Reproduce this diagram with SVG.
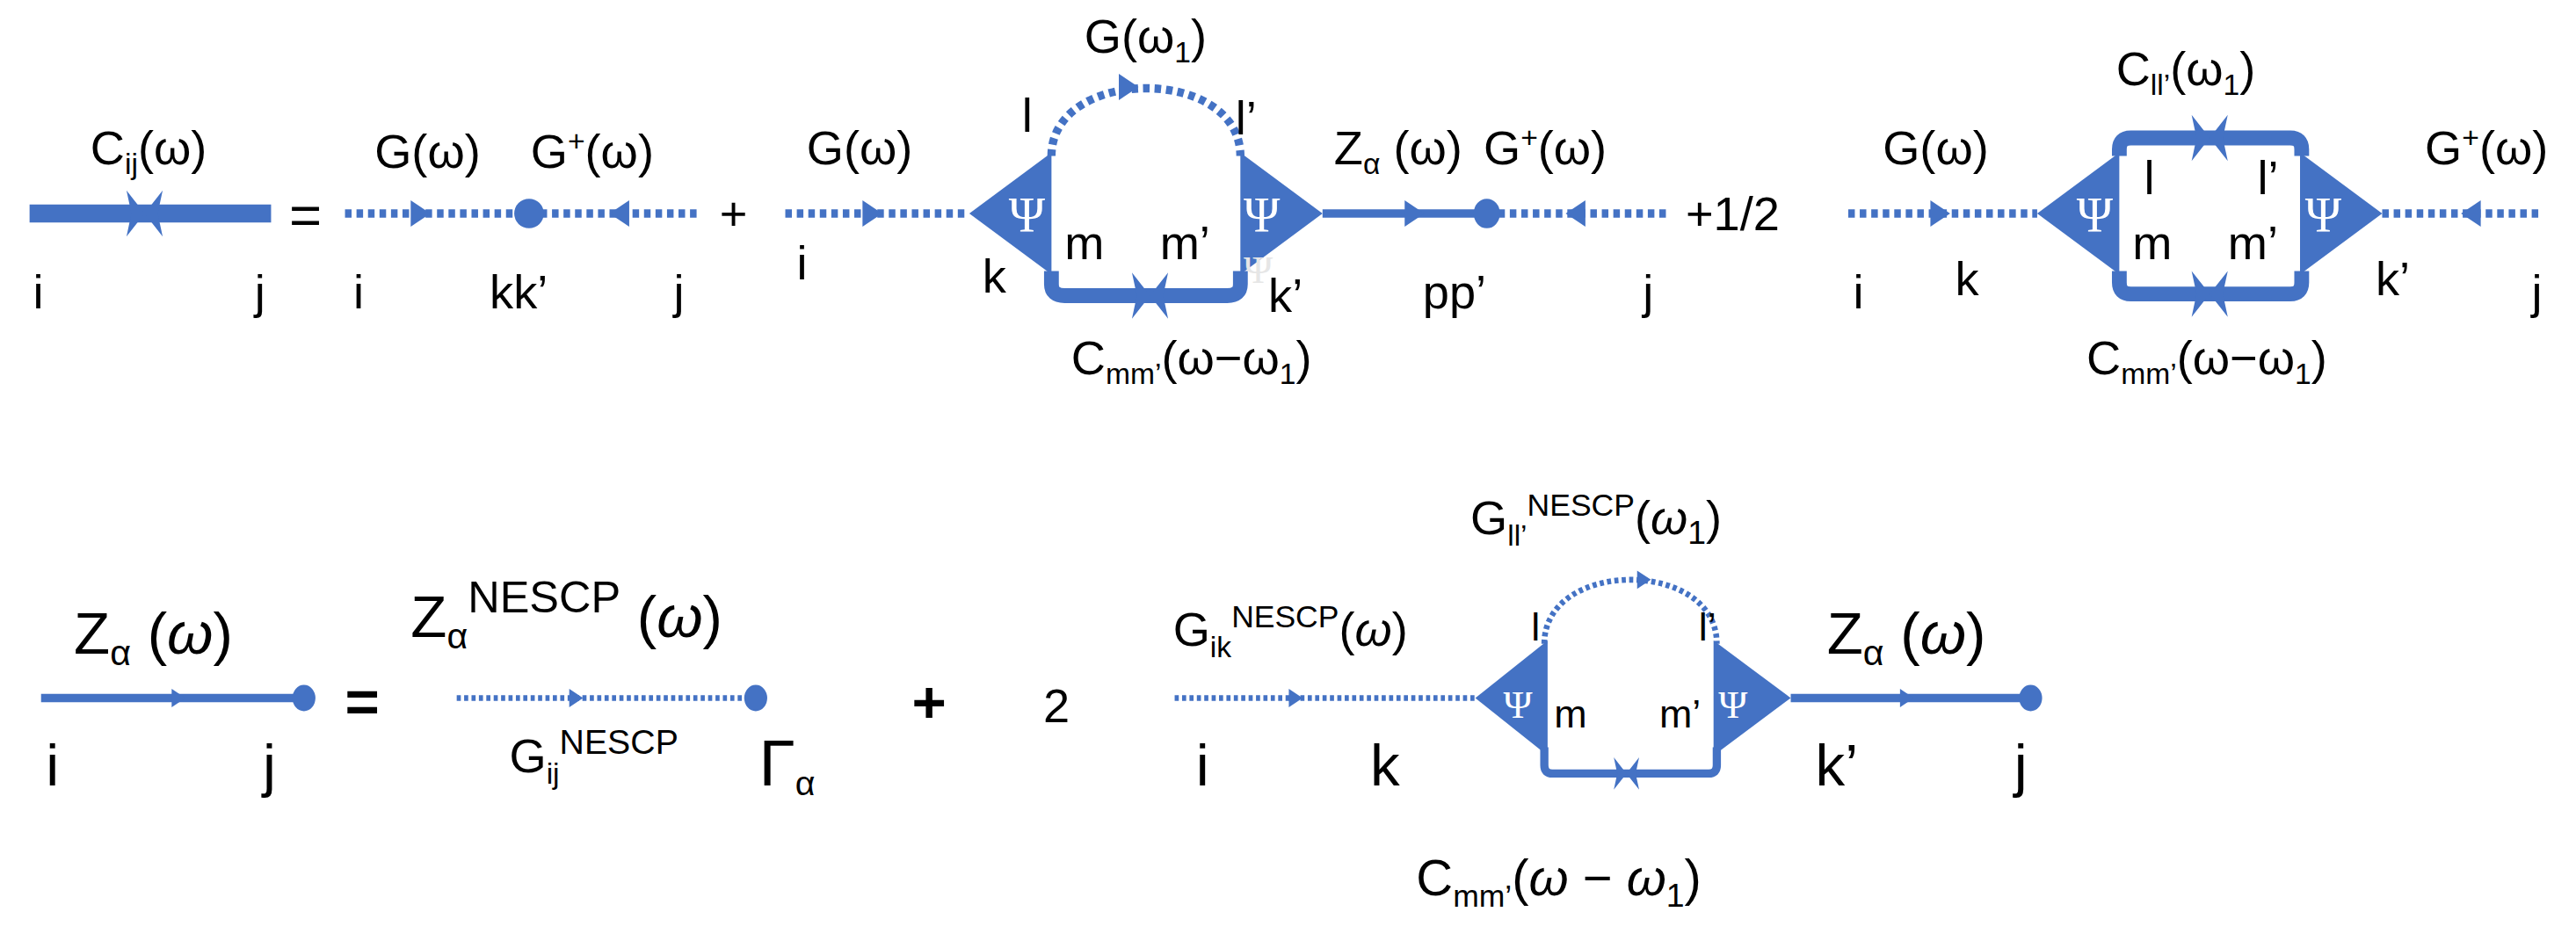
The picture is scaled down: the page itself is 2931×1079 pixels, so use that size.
<svg xmlns="http://www.w3.org/2000/svg" width="2931" height="1079" viewBox="0 0 2931 1079">
<defs>
<style>
.t{font-family:"Liberation Sans",Arial,sans-serif;font-size:29px;fill:#000}
.b{font-family:"Liberation Sans",Arial,sans-serif;font-size:36px;fill:#000}
.s{font-size:18px}
.psi{font-family:"Liberation Serif",serif;font-size:30px;fill:#fff}
.dot{fill:none;stroke:#4472C4;stroke-width:5;stroke-dasharray:4 3}
.dot2{fill:none;stroke:#4472C4;stroke-width:3.5;stroke-dasharray:2.5 2}
.sol{fill:none;stroke:#4472C4;stroke-width:5}
.thick{fill:none;stroke:#4472C4;stroke-width:9;stroke-linejoin:round}
.f{fill:#4472C4}
</style>
<path id="ar" d="M-5,-8 L7,0 L-5,8 Z" class="f"/>
<path id="al" d="M5,-8 L-7,0 L5,8 Z" class="f"/>
<path id="cr" d="M-11,-14 L0,0 L-11,14 L-8,0 Z" class="f"/>
<path id="cl" d="M11,-14 L0,0 L11,14 L8,0 Z" class="f"/>
</defs>
<rect width="2931" height="1079" fill="#fff"/>
<g transform="scale(1.8693)">
<g id="connectors">
<line x1="18" y1="130" x2="165" y2="130" stroke="#4472C4" stroke-width="11"/>
<use href="#cr" x="88" y="130"/><use href="#cl" x="88" y="130"/>
<line x1="210" y1="130" x2="425" y2="130" class="dot"/>
<use href="#ar" x="255" y="130"/><use href="#al" x="378" y="130"/>
<line x1="478" y1="130" x2="590" y2="130" class="dot"/>
<use href="#ar" x="530" y="130"/>
<path d="M640,95 C640,40 755,40 755,95" class="dot"/>
<use href="#ar" x="686" y="53"/>
<path d="M640,165 L640,173 Q640,180 648,180 L747,180 Q755,180 755,173 L755,165" class="thick"/>
<use href="#cr" x="700" y="180"/><use href="#cl" x="700" y="180"/>
<line x1="805" y1="130" x2="905" y2="130" class="sol"/>
<use href="#ar" x="860" y="130"/>
<line x1="912" y1="130" x2="1015" y2="130" class="dot"/>
<use href="#al" x="960" y="130"/>
<line x1="1125" y1="130" x2="1240" y2="130" class="dot"/>
<use href="#ar" x="1180" y="130"/>
<path d="M1290,95 L1290,91 Q1290,84 1297,84 L1394,84 Q1401,84 1401,91 L1401,95" class="thick"/>
<use href="#cr" x="1345" y="84"/><use href="#cl" x="1345" y="84"/>
<path d="M1290,165 L1290,172 Q1290,179 1297,179 L1394,179 Q1401,179 1401,172 L1401,165" class="thick"/>
<use href="#cr" x="1345" y="179"/><use href="#cl" x="1345" y="179"/>
<line x1="1450" y1="130" x2="1545" y2="130" class="dot"/>
<use href="#al" x="1505" y="130"/>
<line x1="25" y1="425" x2="185" y2="425" class="sol"/>
<use href="#ar" x="108" y="425" transform="translate(108 425) scale(0.7) translate(-108 -425)"/>
<line x1="278" y1="425" x2="460" y2="425" class="dot2"/>
<use href="#ar" x="350" y="425" transform="translate(350 425) scale(0.7) translate(-350 -425)"/>
<line x1="715" y1="425" x2="898" y2="425" class="dot2"/>
<use href="#ar" x="788" y="425" transform="translate(788 425) scale(0.7) translate(-788 -425)"/>
<path d="M940,392 C940,340 1045,340 1045,392" class="dot2"/>
<use href="#ar" x="1000" y="353" transform="translate(1000 353) scale(0.7) translate(-1000 -353)"/>
<path d="M940,455 L940,466 Q940,471 945,471 L1040,471 Q1045,471 1045,466 L1045,455" fill="none" stroke="#4472C4" stroke-width="5"/>
<use href="#cr" x="990" y="471" transform="translate(990 471) scale(0.7) translate(-990 -471)"/>
<use href="#cl" x="990" y="471" transform="translate(990 471) scale(0.7) translate(-990 -471)"/>
<line x1="1090" y1="425" x2="1235" y2="425" stroke="#4472C4" stroke-width="5"/>
<use href="#ar" x="1160" y="425" transform="translate(1160 425) scale(0.7) translate(-1160 -425)"/>
</g>
<g id="n-kk"><circle cx="322" cy="130" r="9" class="f"/></g>
<g id="n-pp"><ellipse cx="905" cy="130" rx="8" ry="9" class="f"/></g>
<g id="n-v1"><path d="M590,130 L640,93 L640,167 Z" class="f"/><text x="614" y="141" class="psi">Ψ</text></g>
<g id="n-v2"><path d="M755,93 L805,130 L755,167 Z" class="f"/><text x="757" y="141" class="psi">Ψ</text></g>
<g id="n-v3"><path d="M1240,130 L1290,93 L1290,167 Z" class="f"/><text x="1264" y="141" class="psi">Ψ</text></g>
<g id="n-v4"><path d="M1400,93 L1450,130 L1400,167 Z" class="f"/><text x="1403" y="141" class="psi">Ψ</text></g>
<g id="n-zj"><ellipse cx="185" cy="425" rx="7" ry="8" class="f"/></g>
<g id="n-g"><ellipse cx="460" cy="425" rx="7" ry="8" class="f"/></g>
<g id="n-v5"><path d="M898,425 L942,390 L942,460 Z" class="f"/><text x="915" y="437" class="psi" style="font-size:24px">Ψ</text></g>
<g id="n-v6"><path d="M1043,390 L1090,425 L1043,460 Z" class="f"/><text x="1046" y="437" class="psi" style="font-size:24px">Ψ</text></g>
<g id="n-j2"><ellipse cx="1236" cy="425" rx="7" ry="8" class="f"/></g>
<g id="labels">
<text x="55" y="100" class="t">C<tspan class="s" dy="6">ij</tspan><tspan dy="-6">(ω)</tspan></text>
<text x="20" y="188" class="t">i</text><text x="155" y="188" class="t">j</text>
<text x="176" y="143" class="t" style="font-size:34px">=</text>
<text x="228" y="102" class="t">G(ω)</text>
<text x="323" y="102" class="t">G<tspan class="s" dy="-10">+</tspan><tspan dy="10">(ω)</tspan></text>
<text x="215" y="188" class="t">i</text><text x="298" y="188" class="t">kk’</text><text x="410" y="188" class="t">j</text>
<text x="438" y="140" class="t">+</text>
<text x="491" y="100" class="t">G(ω)</text>
<text x="485" y="170" class="t">i</text><text x="598" y="178" class="t">k</text>
<text x="660" y="32" class="t">G(ω<tspan class="s" dy="6">1</tspan><tspan dy="-6">)</tspan></text>
<text x="622" y="80" class="t">l</text><text x="752" y="82" class="t">l’</text>
<text x="648" y="158" class="t">m</text><text x="706" y="158" class="t">m’</text>
<text x="757" y="172" class="psi" style="fill:#e6e6e6;font-size:24px">Ψ</text>
<text x="772" y="190" class="t">k’</text>
<text x="812" y="100" class="t">Z<tspan class="s" dy="6">α</tspan><tspan dy="-6"> (ω)</tspan></text>
<text x="903" y="100" class="t">G<tspan class="s" dy="-10">+</tspan><tspan dy="10">(ω)</tspan></text>
<text x="866" y="188" class="t">pp’</text><text x="1000" y="188" class="t">j</text>
<text x="652" y="228" class="t">C<tspan class="s" dy="6">mm’</tspan><tspan dy="-6">(ω−ω</tspan><tspan class="s" dy="6">1</tspan><tspan dy="-6">)</tspan></text>
<text x="1026" y="140" class="t">+1/2</text>
<text x="1146" y="100" class="t">G(ω)</text>
<text x="1288" y="52" class="t">C<tspan class="s" dy="6">ll’</tspan><tspan dy="-6">(ω</tspan><tspan class="s" dy="6">1</tspan><tspan dy="-6">)</tspan></text>
<text x="1476" y="100" class="t">G<tspan class="s" dy="-10">+</tspan><tspan dy="10">(ω)</tspan></text>
<text x="1305" y="118" class="t">l</text><text x="1374" y="118" class="t">l’</text>
<text x="1298" y="158" class="t">m</text><text x="1356" y="158" class="t">m’</text>
<text x="1128" y="188" class="t">i</text><text x="1190" y="180" class="t">k</text>
<text x="1446" y="180" class="t">k’</text><text x="1541" y="188" class="t">j</text>
<text x="1270" y="228" class="t">C<tspan class="s" dy="6">mm’</tspan><tspan dy="-6">(ω−ω</tspan><tspan class="s" dy="6">1</tspan><tspan dy="-6">)</tspan></text>
<text x="45" y="398" class="b">Z<tspan style="font-size:22px" dy="7">α</tspan><tspan dy="-7"> (<tspan font-style="italic">ω</tspan>)</tspan></text>
<text x="28" y="478" class="b">i</text><text x="160" y="478" class="b">j</text>
<text x="210" y="440" class="b" style="font-weight:bold">=</text>
<text x="250" y="388" class="b">Z<tspan style="font-size:22px" dy="7">α</tspan><tspan style="font-size:27px" dy="-22">NESCP</tspan><tspan dy="15"> (<tspan font-style="italic">ω</tspan>)</tspan></text>
<text x="310" y="470" class="t">G<tspan class="s" dy="7">ij</tspan><tspan style="font-size:21px" dy="-18">NESCP</tspan></text>
<text x="462" y="478" class="b" style="font-size:40px">Γ<tspan style="font-size:21px" dy="6">α</tspan></text>
<text x="555" y="440" class="b" style="font-weight:bold">+</text>
<text x="635" y="440" class="t">2</text>
<text x="714" y="393" class="t">G<tspan class="s" dy="7">ik</tspan><tspan style="font-size:19px" dy="-18">NESCP</tspan><tspan dy="11">(<tspan font-style="italic">ω</tspan>)</tspan></text>
<text x="895" y="325" class="t">G<tspan class="s" dy="7">ll’</tspan><tspan style="font-size:19px" dy="-18">NESCP</tspan><tspan dy="11">(<tspan font-style="italic">ω</tspan><tspan style="font-size:20px" dy="6">1</tspan><tspan dy="-6">)</tspan></tspan></text>
<text x="932" y="390" class="t" style="font-size:24px">l</text><text x="1034" y="390" class="t" style="font-size:24px">l’</text>
<text x="946" y="443" class="t" style="font-size:24px">m</text><text x="1010" y="443" class="t" style="font-size:24px">m’</text>
<text x="1112" y="398" class="b">Z<tspan style="font-size:22px" dy="7">α</tspan><tspan dy="-7"> (<tspan font-style="italic">ω</tspan>)</tspan></text>
<text x="728" y="478" class="b">i</text><text x="834" y="478" class="b">k</text>
<text x="1105" y="478" class="b">k’</text><text x="1226" y="478" class="b">j</text>
<text x="862" y="545" class="b" style="font-size:31px">C<tspan style="font-size:19px" dy="7">mm’</tspan><tspan dy="-7">(<tspan font-style="italic">ω</tspan> − <tspan font-style="italic">ω</tspan></tspan><tspan style="font-size:20px" dy="7">1</tspan><tspan dy="-7">)</tspan></text>
</g>
</g>
</svg>
